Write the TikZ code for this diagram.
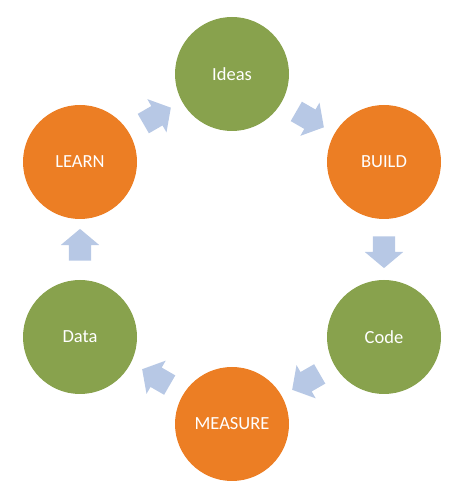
\documentclass[tikz,border=0pt]{standalone}
\usepackage{fontspec}
\setmainfont{Carlito}
\usetikzlibrary{shapes.arrows,calc}
\definecolor{cgreen}{HTML}{88A24D}
\definecolor{corange}{HTML}{EC7E24}
\definecolor{carrow}{HTML}{B7C8E5}
\begin{document}
\begin{tikzpicture}[x=1pt,y=1pt,
  stage/.style={circle,minimum size=114pt,inner sep=0pt,text=white,font=\fontsize{18.5}{20}\selectfont},
  gstage/.style={stage,fill=cgreen},
  ostage/.style={stage,fill=corange},
  flow/.style={single arrow,fill=carrow,draw=none,inner sep=11pt,minimum height=31pt,
    single arrow head extend=8pt,single arrow tip angle=100,anchor=center}]
\useasboundingbox (0,0) rectangle (474,502);
\node[gstage] (ideas) at (232,428) {Ideas};
\node[ostage] (build) at (384,340) {BUILD};
\node[gstage] (code) at (384,165) {Code};
\node[ostage] (measure) at (232,78) {MEASURE};
\node[gstage] (data) at (80,165) {Data};
\node[ostage] (learn) at (80,340) {LEARN};
\node[flow,rotate=30] (a1) at ($(learn)!0.5!(ideas)+(-3,0)$) {};
\node[flow,rotate=-30] (a2) at ($(ideas)!0.5!(build)+(-2,1)$) {};
\node[flow,rotate=-90] (a3) at ($(build)!0.5!(code)+(0,2)$) {};
\node[flow,rotate=210] (a4) at ($(code)!0.5!(measure)+(2,1)$) {};
\node[flow,rotate=150] (a5) at ($(measure)!0.5!(data)+(4,1)$) {};
\node[flow,rotate=90] (a6) at ($(data)!0.5!(learn)+(0,0)$) {};
\end{tikzpicture}
\end{document}
